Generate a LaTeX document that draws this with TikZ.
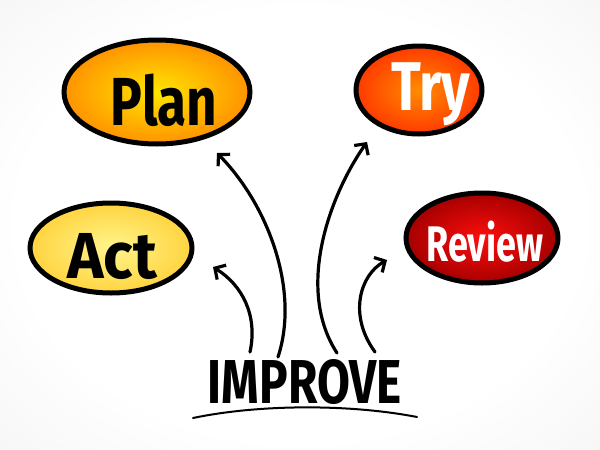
\documentclass[tikz,border=0pt]{standalone}
\usepackage{fontspec}
\setmainfont{Fira Sans}
\usetikzlibrary{shapes.geometric,arrows.meta}
\pgfdeclareradialshading{vign}{\pgfpoint{0bp}{0bp}}{color(0bp)=(white); color(22bp)=(white); color(42bp)=(black!6); color(100bp)=(black!7)}
\tikzset{
  bubble/.style={ellipse, draw=black, line width=5pt, inner sep=0pt, text=black},
  arr/.style={line width=3.2pt, line cap=round, -{Straight Barb[length=8pt,width=17pt,line width=3.2pt]}},
  hand/.style={font=\bfseries, inner sep=0pt}
}
\newcommand{\hw}[3]{\scalebox{#1}[1]{\fontsize{#2}{#2}\selectfont #3}}
\begin{document}
\begin{tikzpicture}[x=1pt,y=-1pt]
\useasboundingbox (0,0) rectangle (600,450);
\shade[shading=vign] (-20,-20) rectangle (620,470);
% bubbles
\node[bubble, minimum width=186pt, minimum height=104pt, inner color=yellow!80!orange, outer color=orange!85!yellow] (plan) at (157,92) {};
\node[bubble, minimum width=126pt, minimum height=88pt, inner color=orange!90!yellow, outer color=red!55!orange] (try) at (419,90) {};
\node[bubble, minimum width=162pt, minimum height=90pt, inner color=yellow!40!white!92!orange, outer color=yellow!55!orange!75!white] (act) at (111,248) {};
\node[bubble, minimum width=152pt, minimum height=90pt, inner color=red!95!white, outer color=red!65!black] (review) at (482,238) {};
% texts
\node[hand] (plantext) at (164,100) {\hw{0.78}{68pt}{Plan}};
\node[hand, text=white] (trytext) at (431,94) {\hw{0.8}{69pt}{Try}};
\node[hand] (acttext) at (112,257) {\hw{0.95}{65pt}{Act}};
\node[hand, text=white] (reviewtext) at (485,242) {\hw{0.72}{50pt}{Review}};
\node[hand] (improve) at (305,382) {\hw{0.77}{62pt}{IMPROVE}};
% coordinates
\coordinate (s1) at (250,352);
\coordinate (s2) at (278,357);
\coordinate (s3) at (337,353);
\coordinate (s4) at (375,352);
\coordinate (e1) at (213,267);
\coordinate (e2) at (217,153);
\coordinate (e3) at (367,142);
\coordinate (e4) at (387,260);
\draw[arr] (s1) .. controls (258,315) and (242,285) .. (e1);
\draw[arr] (s2) .. controls (300,290) and (268,205) .. (e2);
\draw[arr] (s3) .. controls (296,290) and (328,198) .. (e3);
\draw[arr] (s4) .. controls (348,315) and (360,275) .. (e4);
\coordinate (u1) at (193,418);
\coordinate (u2) at (417,417);
\draw[line width=2pt, line cap=round] (u1) .. controls (260,404) and (350,404) .. (u2);
\end{tikzpicture}
\end{document}
